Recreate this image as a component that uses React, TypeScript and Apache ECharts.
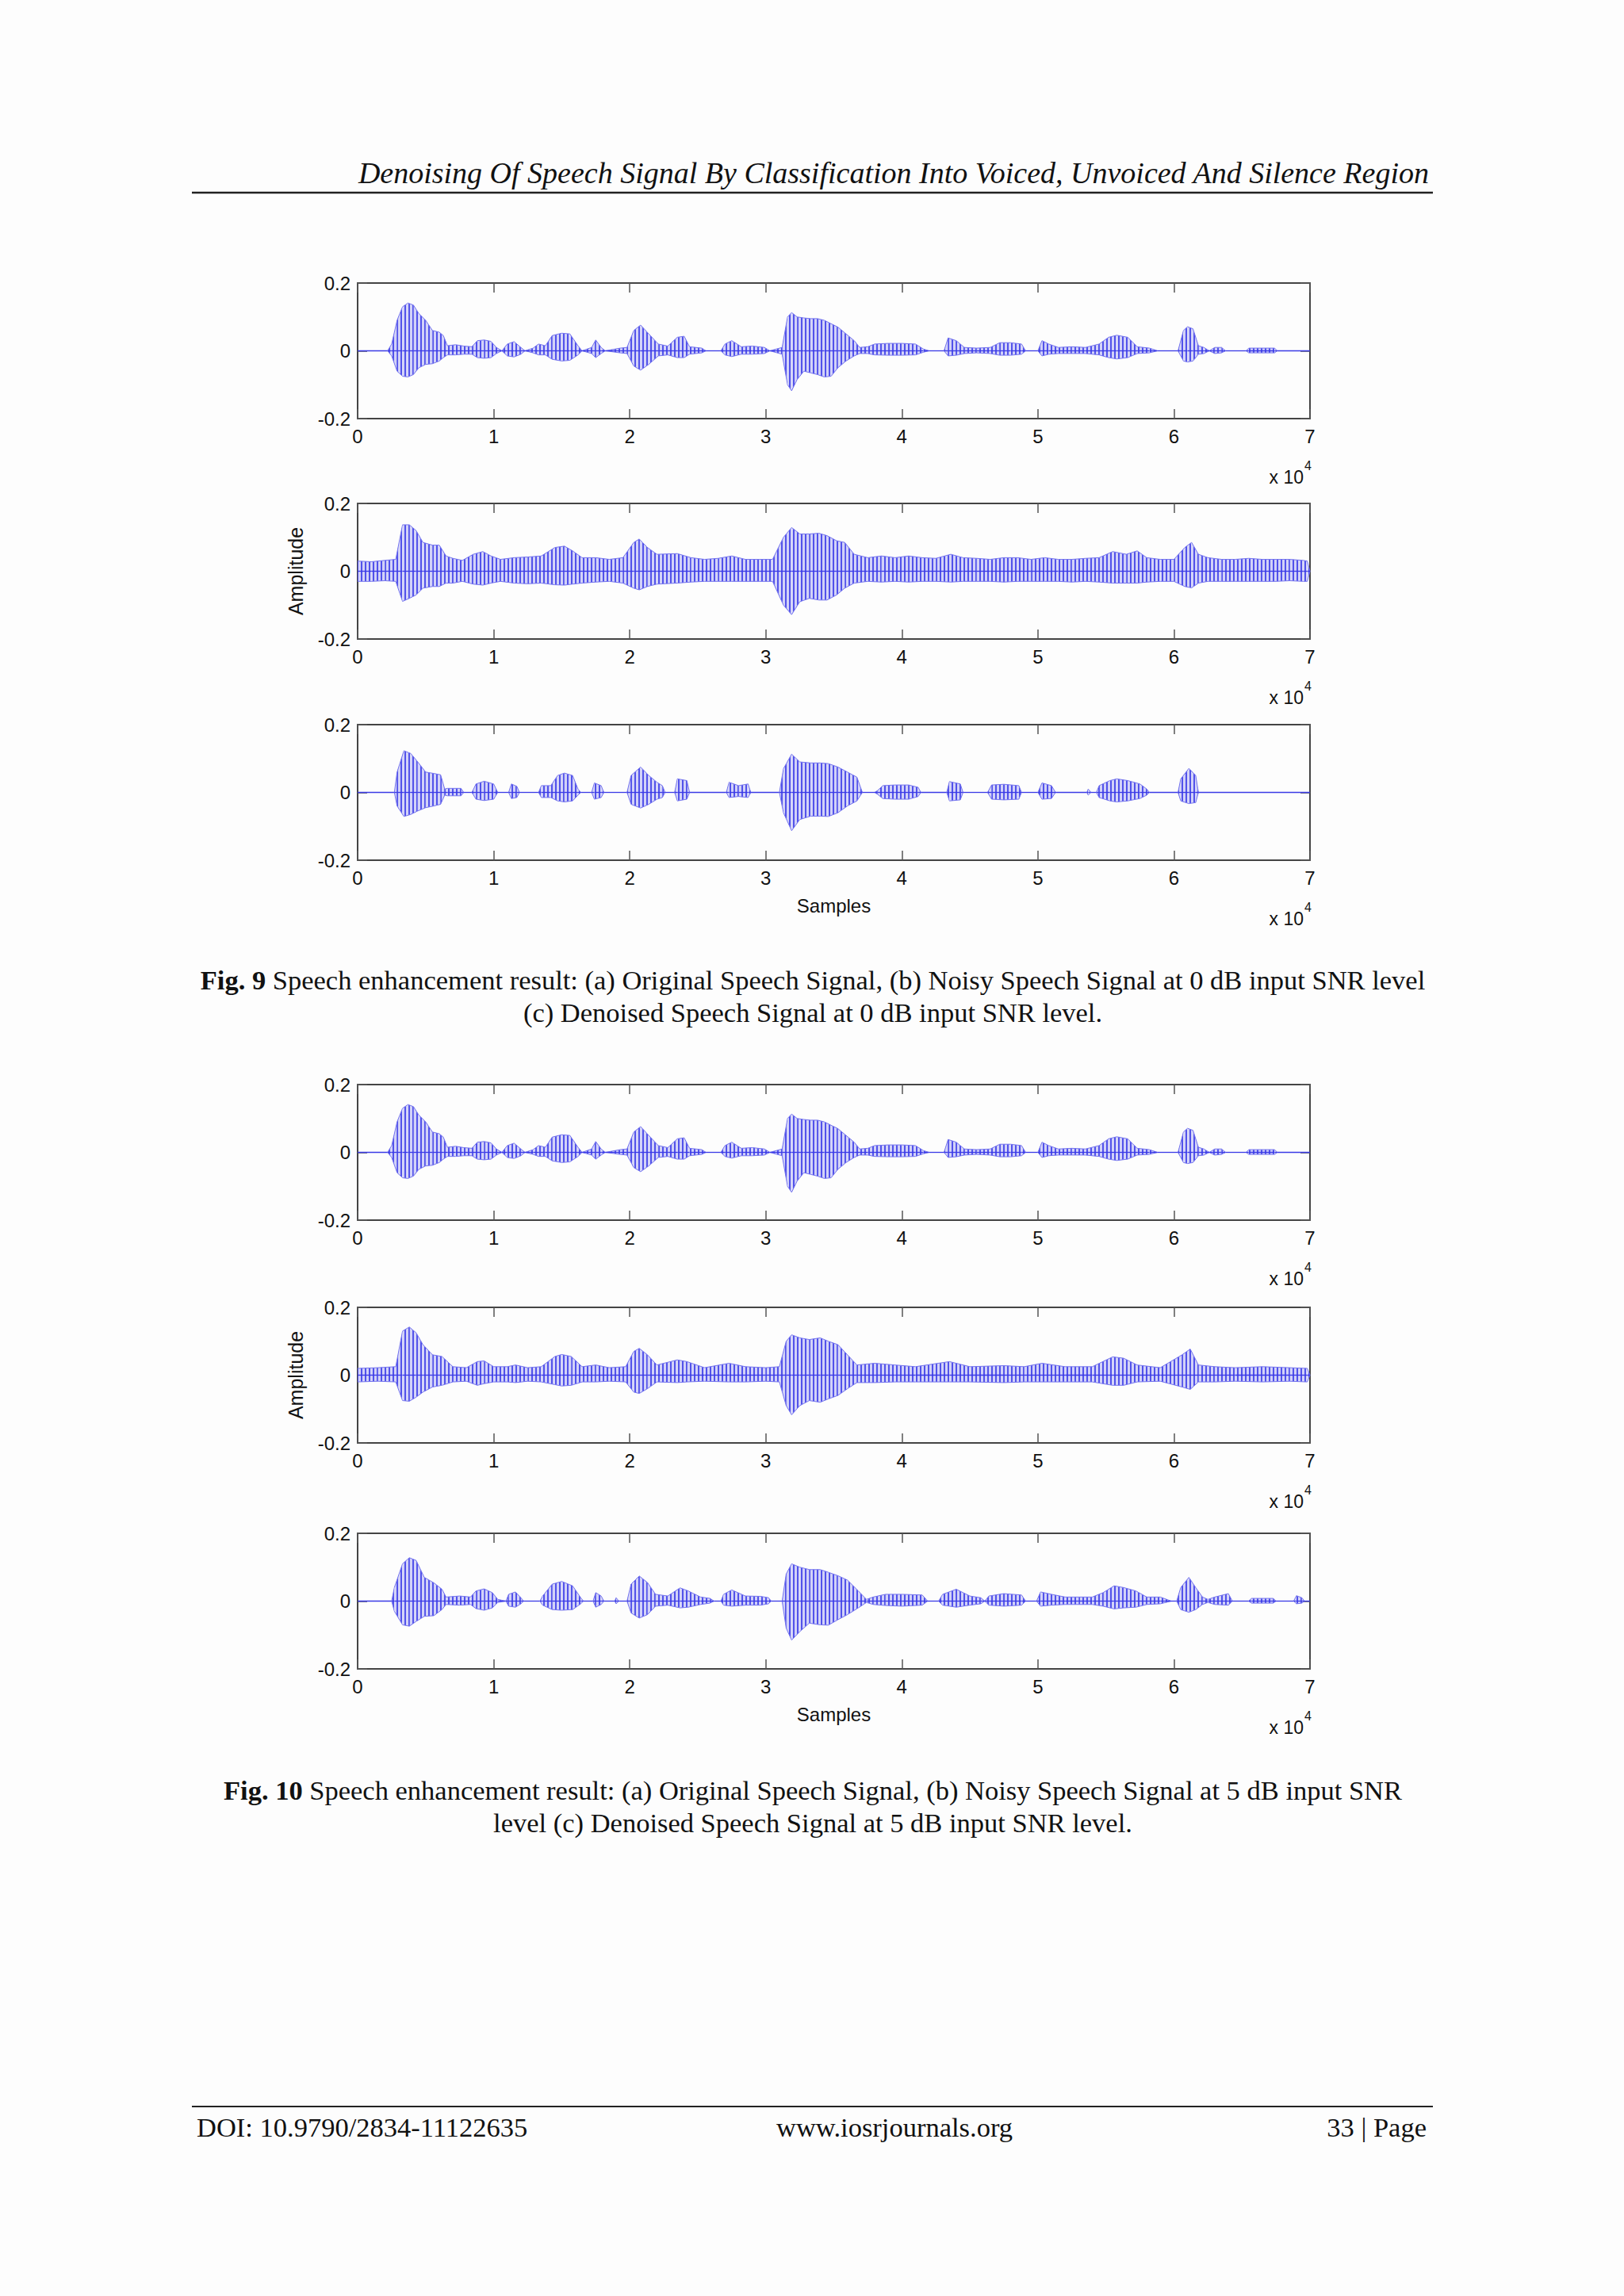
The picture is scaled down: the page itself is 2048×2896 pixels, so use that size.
import React, { useEffect, useRef } from "react";
import * as echarts from "echarts";

const PAGE_W = 2048;
const PAGE_H = 2896;

const xTickLabels = ["0", "1", "2", "3", "4", "5", "6", "7"];
const yTickValues = [-0.2, 0, 0.2];

// Envelope key points: [sample index, upper amplitude, lower amplitude]
const originalSpeech = [
  [0, 0, 0], [2200, 0, 0], [2500, 0.02, -0.015], [2900, 0.09, -0.06], [3300, 0.13, -0.075], [3700, 0.141, -0.077],
  [4100, 0.135, -0.07], [4500, 0.11, -0.05], [5000, 0.09, -0.04], [5500, 0.06, -0.038], [6000, 0.055, -0.03],
  [6300, 0.045, -0.02], [6600, 0.015, -0.012], [7200, 0.018, -0.012], [7800, 0.014, -0.01], [8400, 0.012, -0.01],
  [8800, 0.03, -0.02], [9300, 0.032, -0.022], [9800, 0.028, -0.02], [10200, 0.01, -0.008], [10600, 0, 0],
  [11000, 0.02, -0.015], [11500, 0.027, -0.018], [12000, 0.01, -0.01], [12300, 0, 0], [12900, 0.008, -0.006],
  [13300, 0.02, -0.012], [13800, 0.015, -0.012], [14300, 0.045, -0.025], [15000, 0.052, -0.03], [15600, 0.05, -0.028],
  [16200, 0.015, -0.012], [16500, 0, 0], [17200, 0.01, -0.008], [17500, 0.032, -0.02], [17900, 0.01, -0.008],
  [18200, 0, 0], [19300, 0.008, -0.006], [19800, 0.01, -0.008], [20300, 0.06, -0.045], [20800, 0.076, -0.057],
  [21400, 0.05, -0.04], [22100, 0.02, -0.015], [22800, 0.014, -0.012], [23500, 0.04, -0.02], [24000, 0.043, -0.02],
  [24400, 0.012, -0.01], [25300, 0.008, -0.006], [25600, 0, 0], [26700, 0, 0], [27000, 0.02, -0.012],
  [27500, 0.03, -0.017], [28200, 0.012, -0.01], [29000, 0.014, -0.01], [29900, 0.01, -0.008], [30300, 0, 0],
  [31200, 0.01, -0.01], [31600, 0.1, -0.1], [31900, 0.113, -0.118], [32300, 0.1, -0.085], [32800, 0.097, -0.06],
  [33300, 0.095, -0.065], [33800, 0.095, -0.07], [34300, 0.09, -0.077], [34800, 0.08, -0.075], [35300, 0.07, -0.05],
  [35900, 0.05, -0.03], [36500, 0.03, -0.015], [36900, 0.01, -0.008], [37500, 0.012, -0.008], [38000, 0.02, -0.012],
  [39000, 0.022, -0.013], [40000, 0.022, -0.013], [41000, 0.02, -0.012], [41600, 0.005, -0.004], [42000, 0, 0],
  [43100, 0, 0], [43400, 0.038, -0.015], [44000, 0.03, -0.013], [44600, 0.01, -0.008], [45500, 0.008, -0.006],
  [46500, 0.01, -0.008], [47200, 0.024, -0.013], [48000, 0.024, -0.013], [48800, 0.02, -0.01], [49100, 0, 0],
  [50000, 0, 0], [50300, 0.03, -0.015], [50800, 0.02, -0.01], [51500, 0.01, -0.008], [52500, 0.012, -0.008],
  [53500, 0.01, -0.008], [54500, 0.02, -0.012], [55200, 0.04, -0.02], [55800, 0.046, -0.024], [56600, 0.04, -0.02],
  [57300, 0.012, -0.008], [58200, 0.008, -0.006], [58800, 0, 0], [60300, 0, 0], [60700, 0.06, -0.03],
  [61000, 0.071, -0.033], [61400, 0.065, -0.03], [61800, 0.015, -0.01], [62200, 0.01, -0.008], [62600, 0, 0],
  [63000, 0.01, -0.008], [63500, 0.01, -0.006], [63800, 0, 0], [65300, 0, 0], [65500, 0.008, -0.006],
  [67400, 0.008, -0.006], [67600, 0, 0], [70000, 0, 0],
];

const noisy0dB = [
  [0, 0.03, -0.03], [1000, 0.028, -0.03], [2000, 0.032, -0.028], [2800, 0.035, -0.03], [3300, 0.137, -0.089],
  [3800, 0.137, -0.08], [4300, 0.12, -0.07], [4800, 0.085, -0.05], [5500, 0.077, -0.045], [6000, 0.077, -0.045],
  [6500, 0.045, -0.035], [7000, 0.038, -0.035], [7700, 0.032, -0.03], [8500, 0.05, -0.038], [9200, 0.058, -0.041],
  [9800, 0.045, -0.035], [10500, 0.035, -0.03], [11500, 0.04, -0.035], [12500, 0.042, -0.037], [13500, 0.045, -0.035],
  [14500, 0.07, -0.04], [15200, 0.074, -0.041], [15800, 0.06, -0.038], [16500, 0.04, -0.035], [17500, 0.04, -0.032],
  [18500, 0.035, -0.03], [19500, 0.04, -0.035], [20300, 0.085, -0.05], [20700, 0.095, -0.055], [21300, 0.07, -0.045],
  [22000, 0.05, -0.038], [23500, 0.052, -0.035], [24500, 0.04, -0.032], [25500, 0.035, -0.03], [26500, 0.038, -0.03],
  [27500, 0.045, -0.03], [28500, 0.035, -0.03], [29500, 0.035, -0.03], [30500, 0.035, -0.03], [31300, 0.1, -0.1],
  [31900, 0.129, -0.128], [32500, 0.11, -0.09], [33200, 0.11, -0.08], [33900, 0.112, -0.085], [34500, 0.105, -0.085],
  [35200, 0.09, -0.07], [35800, 0.085, -0.05], [36500, 0.05, -0.035], [37500, 0.04, -0.03], [38500, 0.045, -0.032],
  [39500, 0.04, -0.03], [40500, 0.045, -0.032], [41500, 0.04, -0.03], [42500, 0.038, -0.03], [43600, 0.05, -0.032],
  [44500, 0.04, -0.03], [45500, 0.038, -0.03], [46500, 0.035, -0.03], [47500, 0.04, -0.032], [48500, 0.04, -0.03],
  [49500, 0.035, -0.03], [50500, 0.04, -0.03], [51500, 0.035, -0.03], [52500, 0.035, -0.032], [53500, 0.038, -0.03],
  [54500, 0.04, -0.032], [55500, 0.058, -0.035], [56500, 0.05, -0.035], [57300, 0.06, -0.035], [58000, 0.04, -0.032],
  [59000, 0.035, -0.03], [60000, 0.035, -0.03], [60800, 0.07, -0.045], [61300, 0.085, -0.049], [61800, 0.05, -0.035],
  [62500, 0.04, -0.03], [63500, 0.035, -0.03], [64500, 0.035, -0.03], [65500, 0.038, -0.03], [66500, 0.035, -0.03],
  [67500, 0.035, -0.03], [68500, 0.035, -0.028], [69500, 0.032, -0.03], [69800, 0.03, -0.03], [70000, 0, 0],
];

const denoised0dB = [
  [0, 0, 0], [2700, 0, 0], [2900, 0.06, -0.04], [3400, 0.123, -0.071], [3900, 0.115, -0.065], [4400, 0.091, -0.055],
  [5000, 0.06, -0.045], [5600, 0.056, -0.04], [6100, 0.052, -0.035], [6400, 0.01, -0.008], [6600, 0.012, -0.01],
  [7600, 0.012, -0.01], [7800, 0, 0], [8400, 0, 0], [8700, 0.025, -0.02], [9300, 0.033, -0.024], [10000, 0.025, -0.02],
  [10300, 0, 0], [11100, 0, 0], [11300, 0.025, -0.018], [11700, 0.018, -0.015], [11900, 0, 0], [13300, 0, 0],
  [13500, 0.02, -0.015], [14200, 0.02, -0.015], [14700, 0.05, -0.025], [15200, 0.057, -0.028], [15800, 0.05, -0.025],
  [16200, 0.01, -0.008], [16400, 0, 0], [17200, 0, 0], [17400, 0.028, -0.02], [17900, 0.02, -0.015], [18100, 0, 0],
  [19800, 0, 0], [20100, 0.05, -0.035], [20800, 0.075, -0.046], [21400, 0.05, -0.035], [22000, 0.03, -0.02],
  [22400, 0.02, -0.015], [22600, 0, 0], [23300, 0, 0], [23500, 0.04, -0.025], [24200, 0.035, -0.02], [24400, 0, 0],
  [27100, 0, 0], [27300, 0.03, -0.015], [28000, 0.02, -0.012], [28700, 0.025, -0.015], [28900, 0, 0], [31000, 0, 0],
  [31300, 0.07, -0.06], [31900, 0.113, -0.113], [32500, 0.09, -0.08], [33300, 0.087, -0.07], [34000, 0.087, -0.07],
  [34600, 0.085, -0.071], [35300, 0.075, -0.06], [36000, 0.06, -0.04], [36700, 0.045, -0.025], [37100, 0, 0],
  [38000, 0, 0], [38200, 0.005, -0.005], [38600, 0.02, -0.018], [39500, 0.022, -0.02], [40500, 0.022, -0.02],
  [41200, 0.015, -0.012], [41400, 0, 0], [43300, 0, 0], [43500, 0.032, -0.025], [44300, 0.025, -0.022], [44500, 0, 0],
  [46300, 0, 0], [46600, 0.022, -0.02], [47500, 0.024, -0.022], [48600, 0.02, -0.02], [48800, 0, 0], [50000, 0, 0],
  [50300, 0.028, -0.02], [51000, 0.02, -0.018], [51300, 0, 0], [53600, 0, 0], [53700, 0.01, -0.008], [53900, 0, 0],
  [54300, 0, 0], [54500, 0.02, -0.015], [55300, 0.035, -0.025], [55800, 0.04, -0.028], [56600, 0.035, -0.025],
  [57500, 0.025, -0.018], [58000, 0.01, -0.008], [58200, 0, 0], [60300, 0, 0], [60500, 0.04, -0.025],
  [61100, 0.071, -0.033], [61600, 0.05, -0.03], [61800, 0, 0], [70000, 0, 0],
];

const noisy5dB = [
  [0, 0.02, -0.02], [1500, 0.022, -0.018], [2800, 0.025, -0.02], [3300, 0.13, -0.075], [3800, 0.142, -0.077],
  [4300, 0.125, -0.065], [4800, 0.09, -0.05], [5500, 0.06, -0.035], [6200, 0.055, -0.03], [7000, 0.025, -0.02],
  [8000, 0.022, -0.018], [8800, 0.04, -0.03], [9300, 0.042, -0.025], [10000, 0.025, -0.02], [11000, 0.025, -0.02],
  [11600, 0.03, -0.022], [12500, 0.022, -0.018], [13500, 0.025, -0.02], [14500, 0.055, -0.028], [15000, 0.061, -0.032],
  [15700, 0.055, -0.03], [16500, 0.025, -0.02], [17500, 0.03, -0.02], [18500, 0.022, -0.018], [19700, 0.025, -0.02],
  [20300, 0.07, -0.05], [20700, 0.079, -0.054], [21300, 0.06, -0.04], [22000, 0.03, -0.02], [23500, 0.045, -0.022],
  [24200, 0.04, -0.02], [25500, 0.022, -0.018], [27300, 0.035, -0.02], [28500, 0.025, -0.02], [30000, 0.022, -0.018],
  [31000, 0.025, -0.02], [31500, 0.1, -0.09], [31900, 0.119, -0.117], [32500, 0.11, -0.09], [33200, 0.105, -0.075],
  [34000, 0.11, -0.08], [34600, 0.1, -0.07], [35300, 0.09, -0.06], [36000, 0.06, -0.04], [36700, 0.03, -0.022],
  [38000, 0.035, -0.022], [39500, 0.03, -0.02], [41000, 0.025, -0.02], [43500, 0.04, -0.02], [45000, 0.025, -0.02],
  [47500, 0.028, -0.022], [49000, 0.025, -0.02], [50300, 0.035, -0.02], [52000, 0.025, -0.02], [54000, 0.025, -0.02],
  [55500, 0.054, -0.03], [56300, 0.05, -0.03], [57300, 0.03, -0.02], [59000, 0.022, -0.018], [60600, 0.06, -0.035],
  [61200, 0.077, -0.042], [61800, 0.03, -0.02], [63000, 0.025, -0.02], [64500, 0.022, -0.018], [66500, 0.025, -0.02],
  [68500, 0.022, -0.018], [69800, 0.02, -0.02], [70000, 0, 0],
];

const denoised5dB = [
  [0, 0, 0], [2500, 0, 0], [2700, 0.04, -0.03], [3300, 0.11, -0.07], [3800, 0.128, -0.074], [4300, 0.12, -0.06],
  [4900, 0.07, -0.045], [5600, 0.054, -0.043], [6200, 0.035, -0.025], [6500, 0.012, -0.01], [7500, 0.015, -0.012],
  [8300, 0.012, -0.01], [8700, 0.03, -0.022], [9300, 0.036, -0.027], [9900, 0.025, -0.02], [10300, 0.005, -0.004],
  [10900, 0, 0], [11100, 0.02, -0.015], [11600, 0.027, -0.018], [12000, 0.01, -0.008], [12200, 0, 0], [13400, 0, 0],
  [13600, 0.015, -0.012], [14300, 0.05, -0.025], [15000, 0.058, -0.027], [15800, 0.045, -0.025], [16400, 0.01, -0.008],
  [16600, 0, 0], [17300, 0, 0], [17500, 0.025, -0.018], [17900, 0.015, -0.01], [18100, 0, 0], [18900, 0, 0],
  [19000, 0.01, -0.008], [19200, 0, 0], [19800, 0, 0], [20100, 0.05, -0.035], [20700, 0.074, -0.05],
  [21300, 0.055, -0.04], [21900, 0.02, -0.015], [22800, 0.015, -0.012], [23700, 0.039, -0.02], [24300, 0.03, -0.018],
  [25200, 0.012, -0.01], [25900, 0.008, -0.006], [26200, 0, 0], [26700, 0, 0], [26900, 0.02, -0.012],
  [27500, 0.033, -0.015], [28500, 0.015, -0.012], [29600, 0.014, -0.012], [30200, 0.01, -0.008], [30400, 0, 0],
  [31200, 0, 0], [31500, 0.08, -0.08], [31900, 0.11, -0.115], [32500, 0.1, -0.09], [33200, 0.093, -0.065],
  [34000, 0.093, -0.07], [34600, 0.085, -0.071], [35300, 0.075, -0.055], [36000, 0.062, -0.04], [36800, 0.03, -0.02],
  [37400, 0.005, -0.004], [37900, 0.012, -0.01], [38800, 0.02, -0.013], [40000, 0.02, -0.015], [41500, 0.018, -0.012],
  [41900, 0, 0], [42700, 0, 0], [43000, 0.02, -0.012], [44000, 0.035, -0.018], [45000, 0.015, -0.012],
  [45800, 0.01, -0.008], [46100, 0, 0], [46400, 0.015, -0.012], [47500, 0.022, -0.015], [48800, 0.018, -0.012],
  [49100, 0, 0], [49900, 0, 0], [50200, 0.027, -0.015], [51000, 0.02, -0.012], [52000, 0.012, -0.01],
  [53000, 0.012, -0.01], [54000, 0.012, -0.01], [54800, 0.025, -0.015], [55600, 0.045, -0.023], [56300, 0.04, -0.02],
  [57200, 0.03, -0.018], [58000, 0.012, -0.01], [59000, 0.012, -0.008], [59800, 0, 0], [60200, 0, 0],
  [60500, 0.04, -0.025], [61100, 0.07, -0.033], [61600, 0.04, -0.025], [62100, 0.012, -0.01], [62500, 0.005, -0.004],
  [63000, 0.012, -0.01], [64000, 0.022, -0.012], [64300, 0, 0], [65500, 0, 0], [65700, 0.008, -0.006],
  [67300, 0.008, -0.006], [67500, 0, 0], [68800, 0, 0], [69000, 0.016, -0.008], [69400, 0.01, -0.006], [69600, 0, 0],
  [70000, 0, 0],
];

const panelSignals = [originalSpeech, noisy0dB, denoised0dB, originalSpeech, noisy5dB, denoised5dB];

const headerText = "Denoising Of Speech Signal By Classification Into Voiced, Unvoiced And Silence Region";
const caption9 = [
  "{b|Fig. 9} Speech enhancement result: (a) Original Speech Signal, (b) Noisy Speech Signal at 0 dB input SNR level",
  "(c) Denoised Speech Signal at 0 dB input SNR level.",
];
const caption10 = [
  "{b|Fig. 10} Speech enhancement result: (a) Original Speech Signal, (b) Noisy Speech Signal at 5 dB input SNR",
  "level (c) Denoised Speech Signal at 5 dB input SNR level.",
];
const footerLeft = "DOI: 10.9790/2834-11122635";
const footerMid = "www.iosrjournals.org";
const footerRight = "33 | Page";

// layout
const GRID_LEFT = 451;
const GRID_W = 1201;
const PANEL_H = 171;
const panelTops = [357, 635, 914, 1368, 1649, 1934];
const SANS = "'Liberation Sans', Arial, Helvetica, sans-serif";
const SERIF = "'Liberation Serif', 'Times New Roman', serif";
const EDGE_COLOR = "#7474ee";
const ZERO_COLOR = "#3b3be6";

function makeHatch() {
  const c = document.createElement("canvas");
  c.width = 5;
  c.height = 5;
  const ctx = c.getContext("2d");
  if (ctx) {
    ctx.fillStyle = "#d2d2f8";
    ctx.fillRect(0, 0, 5, 5);
    ctx.fillStyle = "#5252ea";
    ctx.fillRect(0, 0, 2, 5);
  }
  return { image: c.toDataURL(), repeat: "repeat", imageWidth: 5, imageHeight: 5 };
}

function fmtY(v: number) {
  if (Math.abs(v) < 1e-9) return "0";
  const r = Math.round(v * 10) / 10;
  return yTickValues.some((t) => Math.abs(t - r) < 1e-9) ? String(r) : "";
}

// consecutive envelope key points joined into segments for the custom series
function toSegments(sig: number[][]) {
  const out: number[][] = [];
  for (let k = 0; k < sig.length - 1; k++) {
    out.push([sig[k][0], sig[k][1], sig[k][2], sig[k + 1][0], sig[k + 1][1], sig[k + 1][2]]);
  }
  return out;
}

export default function App() {
  const ref = useRef<HTMLDivElement>(null);
  useEffect(() => {
    document.body.style.margin = "0";
    if (!ref.current) return;
    const chart = echarts.init(ref.current, null, { renderer: "svg", width: PAGE_W, height: PAGE_H });
    const hatch = makeHatch();

    const grids: any[] = [];
    const xAxes: any[] = [];
    const yAxes: any[] = [];
    const series: any[] = [];
    const graphics: any[] = [];

    const renderItem = (params: any, api: any) => {
      const a = api.coord([api.value(0), api.value(1)]);
      const b = api.coord([api.value(3), api.value(4)]);
      const c = api.coord([api.value(3), api.value(5)]);
      const d = api.coord([api.value(0), api.value(2)]);
      const z0 = api.coord([api.value(0), 0]);
      const z1 = api.coord([api.value(3), 0]);
      return {
        type: "group",
        children: [
          { type: "polygon", shape: { points: [a, b, c, d] }, style: { fill: hatch, stroke: null } },
          { type: "polyline", shape: { points: [a, b] }, style: { stroke: EDGE_COLOR, lineWidth: 1, fill: null } },
          { type: "polyline", shape: { points: [d, c] }, style: { stroke: EDGE_COLOR, lineWidth: 1, fill: null } },
          { type: "polyline", shape: { points: [z0, z1] }, style: { stroke: ZERO_COLOR, lineWidth: 1.3, fill: null } },
        ],
      };
    };

    panelTops.forEach((top, i) => {
      grids.push({ left: GRID_LEFT, top, width: GRID_W, height: PANEL_H, show: false, containLabel: false });
      const lineStyle = { color: "#444", width: 2 };
      const tick = { show: true, inside: true, length: 12, lineStyle: { color: "#555", width: 1.5 } };
      const isBottom = i === 2 || i === 5;
      xAxes.push({
        type: "value", gridIndex: i, position: "bottom", min: 0, max: 70000, interval: 10000,
        axisLine: { show: true, onZero: false, lineStyle },
        axisTick: tick,
        splitLine: { show: false },
        axisLabel: {
          margin: 10, fontSize: 24, color: "#111", fontFamily: SANS,
          formatter: (v: number) => xTickLabels[Math.round(v / 10000)] ?? "",
        },
        name: isBottom ? "Samples" : "",
        nameLocation: "middle",
        nameGap: 45,
        nameTextStyle: { fontSize: 24, color: "#111", fontFamily: SANS },
      });
      xAxes.push({
        type: "value", gridIndex: i, position: "top", min: 0, max: 70000, interval: 10000,
        axisLine: { show: true, onZero: false, lineStyle },
        axisTick: tick, axisLabel: { show: false }, splitLine: { show: false },
      });
      yAxes.push({
        type: "value", gridIndex: i, position: "left", min: -0.2, max: 0.2, interval: 0.2,
        axisLine: { show: true, onZero: false, lineStyle },
        axisTick: tick, splitLine: { show: false },
        axisLabel: { margin: 9, fontSize: 24, color: "#111", fontFamily: SANS, formatter: fmtY },
      });
      yAxes.push({
        type: "value", gridIndex: i, position: "right", min: -0.2, max: 0.2, interval: 0.2,
        axisLine: { show: true, onZero: false, lineStyle },
        axisTick: tick, axisLabel: { show: false }, splitLine: { show: false },
      });
      series.push({
        type: "custom",
        xAxisIndex: 2 * i,
        yAxisIndex: 2 * i,
        data: toSegments(panelSignals[i]),
        renderItem,
        silent: true,
        z: 3,
      });
      const bottom = top + PANEL_H;
      graphics.push({
        type: "text", x: GRID_LEFT + GRID_W - 8, y: bottom + 74,
        style: { text: "x 10", fontSize: 23, fontFamily: SANS, fill: "#111", align: "right", verticalAlign: "middle" },
      });
      graphics.push({
        type: "text", x: GRID_LEFT + GRID_W - 7, y: bottom + 59,
        style: { text: "4", fontSize: 16, fontFamily: SANS, fill: "#111", align: "left", verticalAlign: "middle" },
      });
      if (i === 1 || i === 4) {
        graphics.push({
          type: "text", x: 373, y: top + PANEL_H / 2, rotation: Math.PI / 2,
          style: { text: "Amplitude", fontSize: 25, fontFamily: SANS, fill: "#111", align: "center", verticalAlign: "middle" },
        });
      }
    });

    // page furniture
    graphics.push({
      type: "text", x: 1802, y: 218,
      style: { text: headerText, fontSize: 38, fontStyle: "italic", fontFamily: SERIF, fill: "#111", align: "right", verticalAlign: "middle" },
    });
    graphics.push({ type: "line", shape: { x1: 242, y1: 243, x2: 1807, y2: 243 }, style: { stroke: "#222", lineWidth: 2.5 } });
    const capRich = { b: { fontWeight: "bold", fontSize: 34.5, fontFamily: SERIF, fill: "#111" } };
    [[caption9, 1236], [caption10, 2258]].forEach(([lines, y]: any) => {
      lines.forEach((t: string, k: number) => {
        graphics.push({
          type: "text", x: 1025, y: y + k * 41,
          style: { text: t, rich: capRich, fontSize: 34.5, fontFamily: SERIF, fill: "#111", align: "center", verticalAlign: "middle" },
        });
      });
    });
    graphics.push({ type: "line", shape: { x1: 242, y1: 2657, x2: 1807, y2: 2657 }, style: { stroke: "#222", lineWidth: 2 } });
    graphics.push({
      type: "text", x: 248, y: 2683,
      style: { text: footerLeft, fontSize: 34.5, fontFamily: SERIF, fill: "#111", align: "left", verticalAlign: "middle" },
    });
    graphics.push({
      type: "text", x: 1128, y: 2683,
      style: { text: footerMid, fontSize: 34.5, fontFamily: SERIF, fill: "#111", align: "center", verticalAlign: "middle" },
    });
    graphics.push({
      type: "text", x: 1799, y: 2683,
      style: { text: footerRight, fontSize: 34.5, fontFamily: SERIF, fill: "#111", align: "right", verticalAlign: "middle" },
    });

    chart.setOption({
      animation: false,
      backgroundColor: "#fdfdfd",
      grid: grids,
      xAxis: xAxes,
      yAxis: yAxes,
      series,
      graphic: graphics,
    });
    return () => chart.dispose();
  }, []);
  return <div ref={ref} style={{ width: PAGE_W, height: PAGE_H, background: "#fdfdfd" }} />;
}
